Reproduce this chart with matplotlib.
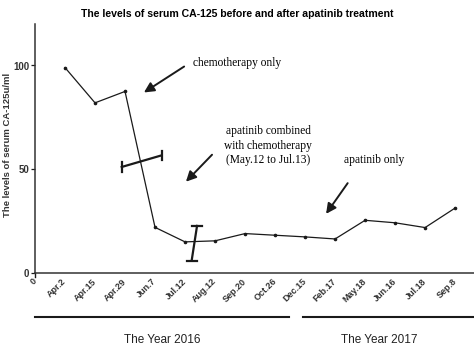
"""Serum CA-125 levels before and after apatinib treatment."""

import matplotlib
matplotlib.use("Agg")
import matplotlib.pyplot as plt
from matplotlib.lines import Line2D

# data
dates = ["Apr.2", "Apr.15", "Apr.29", "Jun.7", "Jul.12", "Aug.12", "Sep.20",
         "Oct.26", "Dec.15", "Feb.17", "May.18", "Jun.16", "Jul.18", "Sep.8"]
ca125 = [99, 82, 87.5, 22, 15, 15.5, 19, 18.2, 17.4, 16.4, 25.4, 24.2, 21.9, 31.3]

# the two bracket marks (start, end) in data units
bracket1_x = [2.89, 4.22]
bracket1_y = [51.1, 56.7]
bracket2_x = [5.22, 5.40]
bracket2_y = [5.9, 22.7]

sans = "Liberation Sans"
serif = "Liberation Serif"
ink = "#1a1a1a"

fig = plt.figure(figsize=(4.74, 3.46), dpi=100)
ax = fig.add_axes([35/474, 73/346, 439/474, 249/346])

x = list(range(1, len(dates) + 1))
ax.plot(x, ca125, color=ink, lw=0.9, marker="o", ms=1.6)

# brackets
ax.plot(bracket1_x, bracket1_y, color=ink, lw=1.6)
for bx, by in zip(bracket1_x, bracket1_y):
    ax.plot([bx, bx], [by - 2.2, by + 2.2], color=ink, lw=1.6)
ax.plot(bracket2_x, bracket2_y, color=ink, lw=1.6)
for bx, by in zip(bracket2_x, bracket2_y):
    ax.plot([bx - 0.17, bx + 0.17], [by, by], color=ink, lw=1.6)

ax.set_xlim(0, 14.63)
ax.set_ylim(0, 120)
ax.set_yticks([0, 50, 100])
ax.set_xticks([0] + x)
ax.set_xticklabels(["0"] + dates, rotation=45, ha="right", va="center",
                   rotation_mode="anchor", fontsize=6.5, fontweight="bold",
                   family=sans, color="#333333")
for lab in ax.get_yticklabels():
    lab.set_fontsize(7)
    lab.set_fontweight("bold")
    lab.set_family(sans)
    lab.set_color("#333333")
ax.tick_params(axis="x", length=0, pad=5)
ax.tick_params(axis="y", length=3, width=0.9, pad=1, color=ink)
for side in ["top", "right"]:
    ax.spines[side].set_visible(False)
for side in ["left", "bottom"]:
    ax.spines[side].set_linewidth(1.1)
    ax.spines[side].set_color("#333333")
# small downward tick at the origin
ax.plot([0, 0], [0, -2], color=ink, lw=1.0, clip_on=False)

fig.text(8/474, 1 - 145/346, "The levels of serum CA-125u/ml", rotation=90,
         ha="center", va="center", fontsize=6.8, fontweight="bold",
         family=sans, color="#333333")

fig.text(237/474, 1 - 14/346, "The levels of serum CA-125 before and after apatinib treatment",
         ha="center", va="center", fontsize=7.6, fontweight="bold", family=sans)

# annotations
arrow = dict(arrowstyle="-|>,head_length=0.5,head_width=0.25", lw=1.4,
             color=ink, mutation_scale=12, shrinkA=0, shrinkB=0)
ax.annotate("", xy=(3.63, 87.0), xytext=(4.97, 99.5), arrowprops=arrow)
ax.annotate("", xy=(5.03, 44.0), xytext=(5.9, 57.0), arrowprops=arrow)
ax.annotate("", xy=(9.7, 28.5), xytext=(10.42, 43.3), arrowprops=arrow)
ax.text(5.27, 101.4, "chemotherapy only", family=serif, fontsize=8.3,
        ha="left", va="center")
ax.text(7.77, 61.4, "apatinib combined\nwith chemotherapy\n(May.12 to Jul.13)",
        family=serif, fontsize=8.3, ha="center", va="center", linespacing=1.25)
ax.text(11.3, 54.6, "apatinib only", family=serif, fontsize=8.3,
        ha="center", va="center")

# year spans under the axis
y_line = 1 - 317/346
fig.add_artist(Line2D([35/474, 289/474], [y_line, y_line], color=ink, lw=1.5))
fig.add_artist(Line2D([303/474, 473/474], [y_line, y_line], color=ink, lw=1.5))
fig.text(162/474, 1 - 340/346, "The Year 2016", ha="center", va="center",
         fontsize=8.5, family=sans, color="#222222")
fig.text(379/474, 1 - 340/346, "The Year 2017", ha="center", va="center",
         fontsize=8.5, family=sans, color="#222222")

fig.savefig("out.png", dpi=100)
